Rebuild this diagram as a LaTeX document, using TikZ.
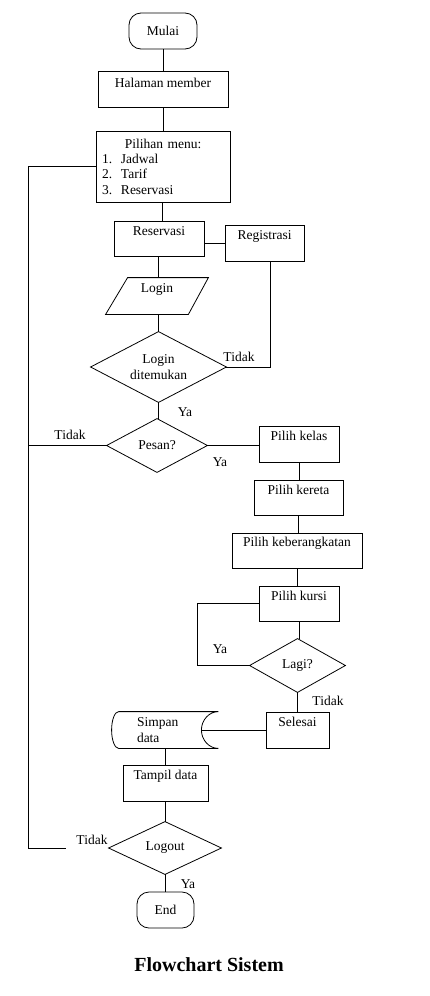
\documentclass[tikz,border=0pt]{standalone}
\usepackage{fontspec}
\setmainfont{Liberation Serif}
\usetikzlibrary{calc}
\newcommand{\bodyfont}{\fontsize{13.5}{15.3}\selectfont}
\begin{document}
\begin{tikzpicture}[x=1pt,y=-1pt, line width=0.8pt,
  every node/.style={font=\bodyfont},
  box/.style={draw, rectangle, inner xsep=2pt, inner ysep=0pt},
  term/.style={draw, rectangle, rounded corners=12pt, inner sep=0pt},
  ghost/.style={rectangle, draw=none, inner sep=0pt},
  lbl/.style={inner sep=0pt}]
\useasboundingbox (0,0) rectangle (430,996);

% nodes
\node[term, minimum width=68pt, minimum height=36pt] (mulai) at (163,31) {Mulai};
\node[box, minimum width=130pt, text height=16pt, text depth=20pt] (halaman) at (163,89) {Halaman member};
\node[box, minimum width=134pt, minimum height=71pt, text width=130pt, align=left] (pilihan) at (163,166.5)
  {{\centering Pilihan menu:\par}\hspace*{4pt}\makebox[19pt][l]{1.}Jadwal\\\hspace*{4pt}\makebox[19pt][l]{2.}Tarif\\\hspace*{4pt}\makebox[19pt][l]{3.}Reservasi};
\node[box, minimum width=90pt, text height=14pt, text depth=21pt] (reservasi) at (159,238.5) {Reservasi};
\node[box, minimum width=79pt, text height=14pt, text depth=22pt] (registrasi) at (264.5,243) {Registrasi};
\node[ghost, minimum width=102pt, text height=14pt, text depth=22pt] (login) at (157,296) {Login};
\draw ([xshift=22pt]login.north west) -- (login.north east) -- ([xshift=-20pt]login.south east) -- (login.south west) -- cycle;
\node[ghost, minimum width=135pt, minimum height=70pt, align=center] (logind) at (158.5,367) {Login\\[0.7pt]ditemukan};
\draw (logind.north) -- (logind.east) -- (logind.south) -- (logind.west) -- cycle;
\node[ghost, minimum width=100pt, minimum height=53pt] (pesan) at (157,445.5) {Pesan?};
\draw (pesan.north) -- (pesan.east) -- (pesan.south) -- (pesan.west) -- cycle;
\node[box, minimum width=80pt, text height=14pt, text depth=22pt] (kelas) at (299,444) {Pilih kelas};
\node[box, minimum width=89pt, text height=14pt, text depth=21pt] (kereta) at (298.5,497.5) {Pilih kereta};
\node[box, minimum width=130pt, text height=13pt, text depth=22pt] (berangkat) at (297,550.5) {Pilih keberangkatan};
\node[box, minimum width=80pt, text height=14pt, text depth=21pt] (kursi) at (299,603.5) {Pilih kursi};
\node[ghost, minimum width=95pt, minimum height=53pt] (lagi) at (297.5,665.5) {Lagi?};
\draw (lagi.north) -- (lagi.east) -- (lagi.south) -- (lagi.west) -- cycle;
\node[box, minimum width=63pt, text height=14pt, text depth=22pt] (selesai) at (297.5,730) {Selesai};
\node[ghost, minimum width=106pt, minimum height=36pt, text width=106pt, align=left, font=\fontsize{13.5}{16}\selectfont] (simpan) at (165,730) {\hspace*{25pt}Simpan\\\hspace*{25pt}data};
\draw ([xshift=7pt]simpan.north west) -- (simpan.north east)
  .. controls ([xshift=-9.4pt]simpan.north east) and ([xshift=-17pt,yshift=9.9pt]simpan.east) .. ([xshift=-17pt]simpan.east)
  .. controls ([xshift=-17pt,yshift=-9.9pt]simpan.east) and ([xshift=-9.4pt]simpan.south east) .. (simpan.south east)
  -- ([xshift=7pt]simpan.south west)
  .. controls ([xshift=3.1pt]simpan.south west) and ([yshift=-9.9pt]simpan.west) .. (simpan.west)
  .. controls ([yshift=9.9pt]simpan.west) and ([xshift=3.1pt]simpan.north west) .. ([xshift=7pt]simpan.north west);
\node[box, minimum width=85pt, text height=14pt, text depth=22pt] (tampil) at (165.5,783) {Tampil data};
\node[ghost, minimum width=112pt, minimum height=52pt] (logout) at (165,848) {Logout};
\draw (logout.north) -- (logout.east) -- (logout.south) -- (logout.west) -- cycle;
\node[term, minimum width=57pt, minimum height=36pt] (endnode) at (165.5,910) {End};

% labels
\node[lbl] (l1) at (239,357) {Tidak};
\node[lbl] (l2) at (185,412) {Ya};
\node[lbl] (l3) at (70,435) {Tidak};
\node[lbl] (l4) at (220,462) {Ya};
\node[lbl] (l5) at (220,649) {Ya};
\node[lbl] (l6) at (328,701) {Tidak};
\node[lbl] (l7) at (92,840) {Tidak};
\node[lbl] (l8) at (188,884) {Ya};
\node[font=\fontsize{20}{24}\selectfont\bfseries] (title) at (209,965) {Flowchart Sistem};

% connectors
\draw (mulai.south) -- (halaman.north);
\draw (halaman.south) -- (pilihan.north);
\draw ([xshift=-1pt]pilihan.south) -- ([xshift=-1pt]pilihan.south |- reservasi.north);
\draw (registrasi.west) -- (registrasi.west -| reservasi.east);
\draw ([xshift=-1pt]reservasi.south) -- ([xshift=-1pt]reservasi.south |- login.north);
\draw (logind.north |- login.south) -- (logind.north);
\draw (logind.east) -| ([xshift=5.5pt]registrasi.south);
\draw (logind.south) -- (logind.south |- pesan.north);
\draw (pesan.east) -- (pesan.east -| kelas.west);
\draw (kelas.south) -- (kelas.south |- kereta.north);
\draw (kereta.south) -- (kereta.south |- berangkat.north);
\draw (berangkat.south) -- (berangkat.south |- kursi.north);
\draw (kursi.south) -- (kursi.south |- lagi.north);
\draw (kursi.west) -| ([xshift=-52pt]lagi.west) -- (lagi.west);
\draw (lagi.south) -- (lagi.south |- selesai.north);
\draw (selesai.west) -- ([xshift=-17pt]simpan.east);
\draw (simpan.south) -- (simpan.south |- tampil.north);
\draw (tampil.south) -- (tampil.south |- logout.north);
\draw (logout.south) -- (logout.south |- endnode.north);
\coordinate (lt) at ([xshift=-43pt]logout.west);
\draw (lt) -| ([xshift=-67pt]pilihan.west) -- (pilihan.west);
\draw (pesan.west) -- ([xshift=-78pt]pesan.west);
\end{tikzpicture}
\end{document}
